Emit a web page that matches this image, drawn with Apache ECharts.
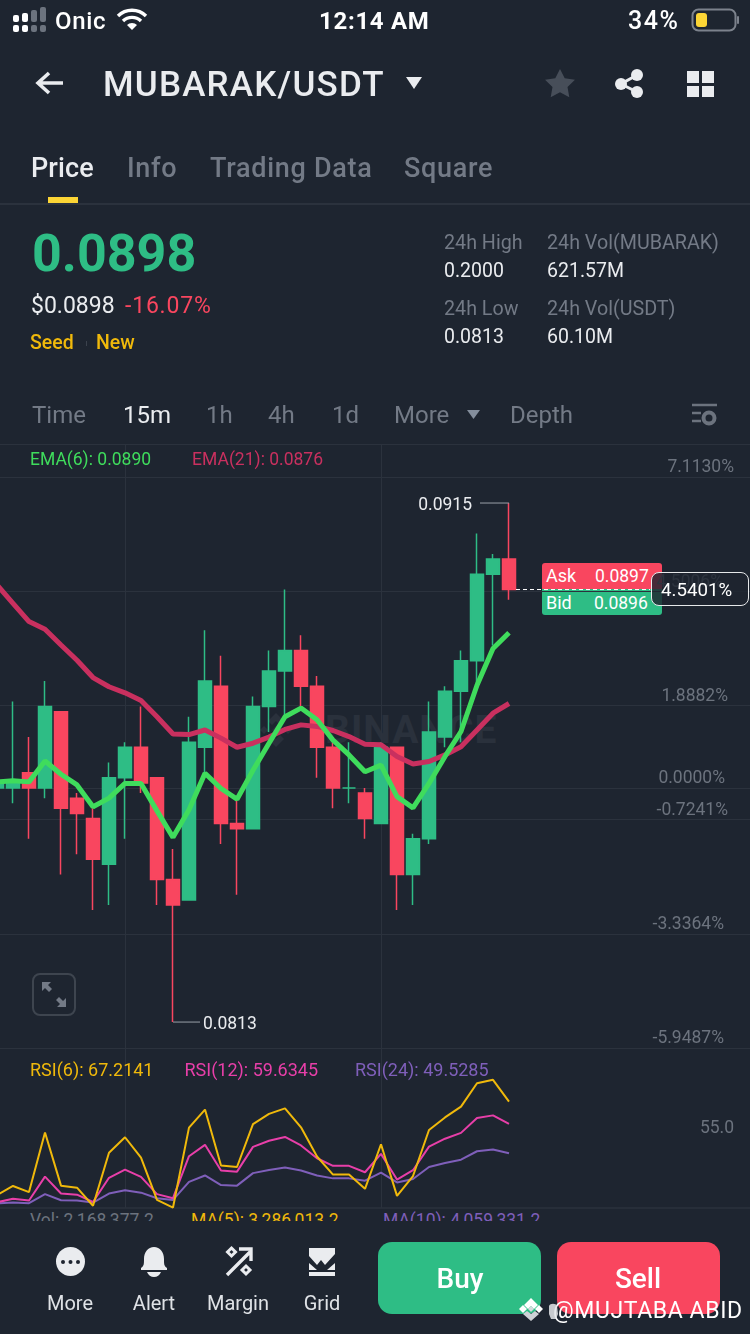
<!DOCTYPE html>
<html><head><meta charset="utf-8">
<style>
html,body{margin:0;padding:0;background:#1e2530;width:750px;height:1334px;overflow:hidden;font-family:Roboto,sans-serif}
#under,#over{position:absolute;left:0;top:0;width:750px;height:1334px;pointer-events:none}
#under{z-index:1}#over{z-index:3}
#chart{position:absolute;left:0;top:0;width:750px;height:1334px;z-index:2}
.t{position:absolute;white-space:nowrap;transform:translateY(-50%);line-height:1.2}
.r{position:absolute}
svg{position:absolute;left:0;top:0}
</style></head><body>
<div id="under"></div>
<div id="chart"></div>
<div id="over"></div>
<script src="https://cdn.jsdelivr.net/npm/echarts@6/dist/echarts.min.js"></script>
<script>
// ---- data ----
const slots = Array.from({length:49},(_,i)=>String(i));
const opens  = [.0859,.0859,.0862,.0859,.0874,.0857,.0853,.0844,.0861,.0867,.0861,.0841,.0837,.0867,.0879,.0852,.0851,.0875,.0882,.0886,.0879,.0867,.0859,.0858,.0852,.0867,.0842,.0849,.0869,.0878,.0884,.0901,.0904];
const closes = [.0860,.0860,.0859,.0875,.0855,.0854,.0845,.0861,.0867,.0860,.0841,.0836,.0868,.0880,.0852,.0851,.0875,.0882,.0886,.0879,.0867,.0859,.0859,.0853,.0867,.0842,.0849,.0870,.0878,.0884,.0901,.0904,.0898];
const lows   = [.0859,.0856,.0849,.0857,.0842,.0846,.0835,.0836,.0849,.0858,.0836,.0813,.0837,.0861,.0848,.0838,.0851,.0870,.0873,.0875,.0861,.0855,.0856,.0849,.0852,.0835,.0836,.0848,.0867,.0868,.0879,.0887,.0896];
const highs  = [.0860,.0876,.0869,.0880,.0874,.0858,.0855,.0864,.0868,.0875,.0861,.0847,.0873,.0890,.0885,.0857,.0877,.0886,.0898,.0889,.0881,.0868,.0868,.0859,.0868,.0867,.0850,.0876,.0879,.0886,.0909,.0905,.0915];
const ema6  = [.08602,.08604,.08602,.08643,.08617,.08596,.08553,.08570,.08599,.08599,.08545,.08493,.08547,.08619,.08589,.08568,.08625,.08678,.08730,.08747,.08724,.08684,.08655,.08622,.08635,.08573,.08551,.08599,.08652,.08701,.08792,.08864,.08895];
const ema21 = [.08989,.08953,.08917,.08902,.08871,.08841,.08807,.08789,.08777,.08762,.08730,.08696,.08695,.08704,.08688,.08670,.08678,.08690,.08705,.08714,.08711,.08703,.08691,.08676,.08675,.08652,.08637,.08642,.08655,.08671,.08704,.08737,.08756];
const rsi6  = [35.2,38.3,36.2,56.6,38.4,37.7,31.5,49.7,55.0,48.0,33.5,30.9,58.3,64.5,45.3,44.8,59.5,63.0,64.9,58.4,48.4,42.2,42.2,37.3,52.6,34.9,41.7,57.5,61.8,65.5,73.5,74.7,67.2];
const rsi12 = [32.7,33.9,33.3,41.5,35.7,35.3,32.8,41.1,43.9,41.4,35.5,34.1,48.5,52.4,43.6,43.2,51.7,53.8,55.1,52.2,47.8,45.2,45.2,43.0,49.3,40.5,43.7,51.8,54.5,56.5,61.6,62.5,59.6];
const rsi24 = [32.3,32.6,32.4,35.5,33.4,33.3,32.6,35.7,36.8,36.0,34.1,33.5,39.7,41.9,38.6,38.4,42.7,43.8,44.6,43.6,41.9,40.9,40.9,40.1,42.9,39.5,40.7,44.8,46.2,47.3,50.2,50.8,49.5];
const basePrice = 0.0859;
const pctTicks = [7.1130,4.5006,1.8882,0,-0.7241,-3.3364,-5.9487];
const rsiTicks = [55];
const highMark = [32,0.0915];
const lowMark  = [11,0.0813];
const lastMark = [32,0.0898];
const emaLabels = {'EMA(6)':'0.0890','EMA(21)':'0.0876'};
const rsiLabels = {'RSI(6)':'67.2141','RSI(12)':'59.6345','RSI(24)':'49.5285'};

// ---- style ----
const C={bg:'#1e2530',grid:'#2b323d',up:'#2ebd85',down:'#f9465f',ema6:'#3fdc5c',ema21:'#c9305f',y:'#f0b90b',p:'#e83fa9',v:'#7f5fba',axis:'#6c737e',w:'#eaecef',g:'#848e9c',dim:'#737a86'};
const yMin=basePrice*(1-5.9487/100), yMax=0.09266;
const gridX={left:-3,width:768,outerBoundsMode:'none'};
const isVert=(i)=>i===8||i===24;
const price=(p)=>basePrice*(1+p/100);
const insets={'7.1130':0,'4.5006':11,'1.8882':6,'0.0000':9,'-0.7241':6,'-3.3364':10,'-5.9487':10};
const rich={};Object.values(insets).forEach(n=>{rich['i'+n]={padding:[0,n,0,0],fontSize:17.5,color:C.axis,fontFamily:'Roboto'}});

function xA(grid,line){return {type:'category',gridIndex:grid,data:slots,boundaryGap:false,containShape:false,
  axisLabel:{show:false},axisTick:{show:false},
  axisLine:{show:line,lineStyle:{color:C.grid,width:1.5}},
  splitLine:{show:true,interval:(i)=>isVert(i),lineStyle:{color:C.grid,width:1}}};}

function markRender(params,api){
  const p=api.coord([api.value(0),api.value(1)]);
  const dir=api.value(2);
  const len=dir<0?29:27;
  return {type:'group',children:[
    {type:'line',shape:{x1:p[0],y1:p[1],x2:p[0]+dir*len,y2:p[1]},style:{stroke:'#9aa0a8',lineWidth:1}},
    {type:'text',style:{text:api.value(1).toFixed(4),x:p[0]+dir*(len+3+(dir<0?5:0)),y:p[1]+2.5,fill:C.w,font:'17.5px Roboto',align:dir<0?'right':'left',verticalAlign:'middle'}}
  ]};
}
function lastRender(params,api){
  const p=api.coord([api.value(0),api.value(1)]);
  return {type:'line',shape:{x1:p[0]+7,y1:p[1],x2:p[0]+141,y2:p[1]},style:{stroke:'#ffffff',lineWidth:1,lineDash:[4,3]}};
}
const legendBase={itemWidth:0,itemHeight:0,selectedMode:false,icon:'rect',padding:0};

const chart=echarts.init(document.getElementById('chart'),null,{width:750,height:1334});
chart.setOption({
  animation:false,backgroundColor:'transparent',
  grid:[{...gridX,top:444,height:604},{...gridX,top:1048,height:160}],
  xAxis:[xA(0,false),xA(1,true)],
  yAxis:[{type:'value',gridIndex:0,position:'right',min:yMin,max:yMax,scale:true,
      axisLine:{show:false},
      axisTick:{show:false,customValues:[...pctTicks.map(price),yMax]},
      splitLine:{show:true,lineStyle:{color:C.grid,width:1}},
      axisLabel:{show:true,inside:false,customValues:pctTicks.map(price),margin:-31,align:'right',verticalAlign:'bottom',
        formatter:(v)=>{const s=((v/basePrice-1)*100).toFixed(4);return '{i'+insets[s]+'|'+s+'%}';},rich}},
    {type:'value',gridIndex:1,position:'right',min:30.74,max:85.6,
      axisLine:{show:false},
      axisTick:{show:false,customValues:rsiTicks},splitLine:{show:false},
      axisLabel:{show:true,customValues:rsiTicks,margin:-31,align:'right',verticalAlign:'bottom',color:C.axis,fontSize:17.5,fontFamily:'Roboto',formatter:(v)=>v.toFixed(1)}}],
  legend:[
    {...legendBase,left:25,top:452,itemGap:36,
     data:[{name:'EMA(6)',textStyle:{color:C.ema6}},{name:'EMA(21)',textStyle:{color:C.ema21}}],
     textStyle:{fontSize:17.5,fontFamily:'Roboto'},formatter:(n)=>n+': '+emaLabels[n]},
    {...legendBase,left:25,top:1062,itemGap:26,
     data:[{name:'RSI(6)',textStyle:{color:C.y}},{name:'RSI(12)',textStyle:{color:C.p}}],
     textStyle:{fontSize:18,fontFamily:'Roboto'},formatter:(n)=>n+': '+rsiLabels[n]},
    {...legendBase,left:350,top:1062,
     data:[{name:'RSI(24)',textStyle:{color:C.v}}],
     textStyle:{fontSize:18,fontFamily:'Roboto'},formatter:(n)=>n+': '+rsiLabels[n]}
  ],
  series:[
    {type:'candlestick',name:'MUBARAK/USDT',xAxisIndex:0,yAxisIndex:0,barWidth:13,clip:false,
     data:opens.map((o,i)=>[o,closes[i],lows[i],highs[i]]),
     itemStyle:{color:C.up,color0:C.down,borderColor:C.up,borderColor0:C.down,borderWidth:1.5}},
    {type:'line',name:'EMA(6)',data:ema6,xAxisIndex:0,yAxisIndex:0,symbol:'none',z:5,color:C.ema6,lineStyle:{color:C.ema6,width:5}},
    {type:'line',name:'EMA(21)',data:ema21,xAxisIndex:0,yAxisIndex:0,symbol:'none',z:4,color:C.ema21,lineStyle:{color:C.ema21,width:5}},
    {type:'custom',name:'hiLo',xAxisIndex:0,yAxisIndex:0,z:6,renderItem:markRender,encode:{x:0,y:1},data:[[...highMark,-1],[...lowMark,1]]},
    {type:'custom',name:'last',xAxisIndex:0,yAxisIndex:0,z:6,renderItem:lastRender,encode:{x:0,y:1},data:[lastMark]},
    {type:'line',name:'RSI(24)',data:rsi24,xAxisIndex:1,yAxisIndex:1,symbol:'none',color:C.v,lineStyle:{color:C.v,width:2}},
    {type:'line',name:'RSI(12)',data:rsi12,xAxisIndex:1,yAxisIndex:1,symbol:'none',color:C.p,lineStyle:{color:C.p,width:2}},
    {type:'line',name:'RSI(6)',data:rsi6,xAxisIndex:1,yAxisIndex:1,symbol:'none',color:C.y,lineStyle:{color:C.y,width:2}}
  ]
});

// ---- app chrome ----
function T(parent,txt,x,y,size,color,opt={}){const d=document.createElement('div');d.className='t';d.textContent=txt;
  d.style.cssText+=`top:${y}px;font-size:${size}px;color:${color};font-weight:${opt.w||400};letter-spacing:${opt.ls||0}px;`+(opt.right!=null?`right:${750-opt.right}px;`:opt.c?`left:${x}px;transform:translate(-50%,-50%);`:`left:${x}px;`);
  parent.appendChild(d);return d;}
function R(parent,x,y,w,h,bg,rad,extra=''){const d=document.createElement('div');d.className='r';d.style.cssText=`left:${x}px;top:${y}px;width:${w}px;height:${h}px;background:${bg};border-radius:${rad||0}px;${extra}`;parent.appendChild(d);return d;}
const U=document.getElementById('under'),O=document.getElementById('over');

// under the chart
R(U,0,203,750,1.5,'#2b323d');
R(U,48,197,30,6,'#fcd535');
T(U,'BINANCE',325,730,39,'#2a313c',{w:700,ls:1});
U.insertAdjacentHTML('beforeend',`<svg width="750" height="1334"><g fill="#2a313c" transform="translate(276,730)"><path d="M0-17 8-9 4-5 0-9-4-5-8-9Z"/><path d="M-12-4-8 0-12 4-16 0Z"/><path d="M12-4 16 0 12 4 8 0Z"/><path d="M0-4 4 0 0 4-4 0Z"/><path d="M0 17-8 9-4 5 0 9 4 5 8 9Z"/></g></svg>`);
R(U,542,563,120,26,C.down,3,'border-radius:3px 3px 0 0;');
R(U,542,589,120,26,C.up,3,'border-radius:0 0 3px 3px;');
T(U,'Ask',546,576,18,'#fff');T(U,'0.0897',595,576,17.5,'#fff');
T(U,'Bid',546,603,18,'#fff');T(U,'0.0896',594,603,17.5,'#fff');
T(U,'Vol: 2,168,377.2',30,1220,17.5,C.axis);
T(U,'MA(5): 3,286,013.2',191,1220,17.5,C.y);
T(U,'MA(10): 4,059,331.2',383,1220,17.5,C.v);

// price box, bottom bar, header
R(O,651,572,96,32,'rgba(30,37,48,.82)',8,'border:1px solid #e6e8ea;');
T(O,'4.5401%',661,589.5,18.7,'#fff');
R(O,0,1221,750,113,C.bg);

T(O,'Onic',55,20.5,24,'#fff',{w:500,ls:.7});
T(O,'12:14 AM',319,20.5,24,'#fff',{w:700,ls:.7});
T(O,'34%',628,20.5,25,'#fff',{w:500,ls:1.5});
T(O,'MUBARAK/USDT',103,85,35,C.w,{w:500,ls:1.2});
T(O,'Price',31,168,27,C.w,{w:500,ls:.1});
T(O,'Info',127,168,27,C.dim,{w:500,ls:.7});
T(O,'Trading Data',210,168,27,C.dim,{w:500,ls:.7});
T(O,'Square',404,168,27,C.dim,{w:500,ls:.7});
T(O,'0.0898',32,254,52,C.up,{w:700});
T(O,'$0.0898',31,305.5,23,C.w);
T(O,'-16.07%',125,305.5,23,C.down,{ls:.8});
T(O,'Seed',30,342.5,19.5,C.y,{w:500});
T(O,'New',96,342.5,19.5,C.y,{w:500});
T(O,'24h High',444,243,19.7,C.dim);T(O,'0.2000',444,271,19.5,C.w);
T(O,'24h Vol(MUBARAK)',547,243,19.7,C.dim);T(O,'621.57M',547,271,19.5,C.w);
T(O,'24h Low',444,309,19.7,C.dim);T(O,'0.0813',444,337,19.5,C.w);
T(O,'24h Vol(USDT)',547,309,19.7,C.dim);T(O,'60.10M',547,337,19.5,C.w);
[['Time',32,C.dim],['15m',123,C.w],['1h',206,C.dim],['4h',268,C.dim],['1d',332,C.dim],['More',394,C.dim],['Depth',510,C.dim]].forEach(a=>T(O,a[0],a[1],415,24,a[2]));
[['More',70],['Alert',154],['Margin',238],['Grid',322]].forEach(a=>T(O,a[0],a[1],1303,20,'#dfe2e6',{c:1}));
R(O,378,1242,163,72,C.up,14);R(O,557,1242,163,72,C.down,14);
T(O,'Buy',460,1279,28,'#fff',{c:1,w:500});T(O,'Sell',638,1279,28,'#fff',{c:1,w:500});
T(O,'@MUJTABA ABID',553,1311,23,'#fff',{ls:.6});

O.insertAdjacentHTML('beforeend',`<svg width="750" height="1334">
<g fill="#fff"><rect x="13" y="15" width="6" height="7" rx="2"/><rect x="22" y="13" width="6" height="9" rx="2"/><rect x="13" y="25" width="6" height="7" rx="2"/><rect x="22" y="25" width="6" height="7" rx="2"/></g>
<g fill="#6c737e"><rect x="31" y="10" width="6" height="12" rx="2"/><rect x="40" y="7" width="6" height="15" rx="2"/><rect x="31" y="25" width="6" height="7" rx="2"/><rect x="40" y="25" width="6" height="7" rx="2"/></g>
<g fill="none" stroke="#fff" stroke-width="3.4"><path d="M118 16a20 20 0 0 1 28 0"/><path d="M123 21a13 13 0 0 1 18 0"/></g><path d="M127 25a7 7 0 0 1 10 0l-5 5z" fill="#fff"/>
<rect x="692.5" y="9.5" width="43" height="21" rx="6" fill="none" stroke="#7c828c" stroke-width="2"/><rect x="696" y="13" width="11" height="14" rx="3" fill="#fcd535"/><rect x="737" y="16" width="2" height="8" rx="1" fill="#7c828c"/>
<path d="M63 83H39M49 73 38 83 49 93" fill="none" stroke="${C.w}" stroke-width="3.6"/>
<path d="M406 77h16l-8 12z" fill="${C.w}"/>
<path d="M560 69l4.7 9.3 10.3 1.5-7.5 7.2 1.8 10.2-9.3-4.9-9.3 4.9 1.8-10.2-7.5-7.2 10.3-1.5z" fill="#474e59"/>
<g fill="${C.w}"><circle cx="637" cy="75" r="6"/><circle cx="637" cy="92" r="6"/><circle cx="621" cy="84" r="6"/></g><path d="M637 75 621 84 637 92" fill="none" stroke="${C.w}" stroke-width="3"/>
<g fill="${C.w}"><rect x="687" y="71" width="12" height="12"/><rect x="702" y="71" width="12" height="12"/><rect x="687" y="86" width="12" height="11"/><rect x="702" y="86" width="12" height="11"/></g>
<rect x="86" y="341" width="1" height="5" fill="#3b424d"/>
<path d="M467 410h13l-6.500 9z" fill="${C.g}"/>
<g fill="none" stroke="#6c737e" stroke-width="2.500"><path d="M692 405h25M692 413h9M692 421h9"/></g><circle cx="709" cy="418" r="5.500" fill="none" stroke="#6c737e" stroke-width="4"/>
<rect x="33" y="974" width="42" height="41" rx="7" fill="none" stroke="#3e454f" stroke-width="2"/>
<path d="M42 982h9l-3 3 4 4-3 3-4-4-3 3zM66 1007h-9l3-3-4-4 3-3 4 4 3-3z" fill="#737a86"/>
<ellipse cx="70.500" cy="1261.500" rx="14.500" ry="14.500" fill="${C.w}"/><g fill="${C.bg}"><circle cx="63" cy="1262" r="2"/><circle cx="70.500" cy="1262" r="2"/><circle cx="78" cy="1262" r="2"/></g>
<path d="M141 1268c3-2 3-4 3-9 0-7 4-12 10-12s10 5 10 12c0 5 0 7 3 9v2h-26z" fill="${C.w}"/><path d="M147 1272h14c-1 3-4 5-7 5s-6-2-7-5z" fill="${C.w}"/>
<path d="M227 1275 250 1252M239 1249h12v12" fill="none" stroke="${C.w}" stroke-width="3.400"/><g fill="none" stroke="${C.w}" stroke-width="3"><path d="M231.500 1248l4 4-4 4-4-4z"/><path d="M246 1266l4 4-4 4-4-4z"/></g>
<path d="M309 1248h26v6l-10 11-4-5-4 5-8-9zM309 1263l8 7h-8zM335 1263v7h-8z" fill="${C.w}"/><rect x="309" y="1272" width="26" height="4" fill="${C.w}"/>
<g fill="#fff"><path d="M531 1298 538 1305 534 1309 531 1306 528 1309 524 1305Z"/><path d="M519 1309l4-4 4 4-4 4z"/><path d="M543 1309l-4-4-4 4 4 4z"/><path d="M531 1306l3 3-3 3-3-3z" fill="#d8dade"/><path d="M531 1321 523 1314 527 1311 531 1314 535 1311 539 1314Z" fill="#cfd2d6"/></g>
<path d="M549 1306c1-3 7-3 8 0l1 8-2 5h-5l-2-5z" fill="#e5e7ea" opacity=".85"/>
</svg>`);
</script>
</body></html>
